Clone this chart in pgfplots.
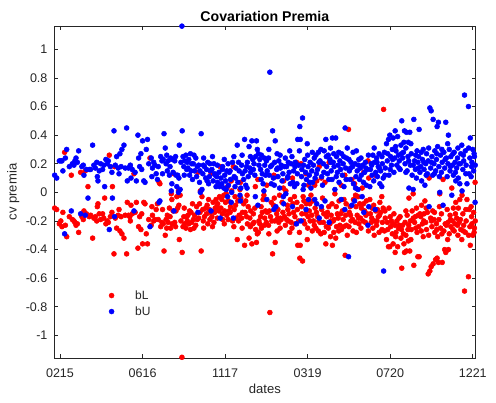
\documentclass[border=0pt]{standalone}
\usepackage{pgfplots}
\pgfplotsset{compat=1.18}
\usepackage{pgfplotstable}
\usepackage{fontspec}
\setmainfont{Liberation Sans}
\definecolor{axgray}{rgb}{0.15,0.15,0.15}
\pgfplotsset{mylegimg/.style={legend image code/.code={\draw[##1] plot coordinates {(0.3cm,0.3pt)}; \path (0cm,0cm) (0.88cm,0cm);}}}

\pgfplotstableread{
x bL bU
-6.5 -0.11 0.12
-4.0 -0.12 0.10
-0.8 -0.22 0.22
1.0 -0.20 0.22
2.4 -0.24 0.22
5.6 0.28 -0.29
6.5 -0.23 0.24
8.1 -0.31 0.30
11.3 -0.17 0.18
13.7 0.12 -0.13
15.0 -0.19 0.20
16.9 -0.20 0.19
19.4 -0.23 0.24
21.0 -0.22 0.21
22.6 -0.28 0.29
25.0 0.14 -0.15
26.5 -0.17 0.18
28.2 -0.19 0.19
30.6 0.15 -0.16
32.0 -0.15 0.16
33.9 0.04 -0.04
35.5 -0.17 0.16
37.1 -0.16 0.16
39.5 -0.32 0.33
41.0 -0.18 0.19
42.8 -0.17 0.17
44.5 -0.20 0.21
46.0 -0.08 0.08
47.5 -0.15 0.15
49.2 -0.19 0.20
51.6 -0.15 0.16
53.0 -0.18 0.19
54.1 -0.04 0.04
55.6 -0.22 0.23
57.3 -0.20 0.20
59.7 0.26 -0.26
61.0 -0.17 0.18
62.9 -0.14 0.14
63.5 0.04 -0.04
65.4 -0.43 0.43
66.0 0.18 -0.17
67.0 -0.18 0.19
68.6 -0.25 0.25
70.5 -0.16 0.17
72.6 -0.27 0.27
74.0 -0.17 0.18
75.0 -0.29 0.30
77.5 -0.32 0.33
79.0 -0.16 0.17
80.7 -0.43 0.45
81.5 -0.07 0.08
83.0 -0.16 0.17
84.5 -0.17 0.18
86.0 -0.09 0.10
87.5 -0.15 0.16
89.6 0.13 -0.13
91.0 -0.14 0.14
92.5 -0.07 0.08
94.4 -0.39 0.40
95.2 -0.24 0.24
96.5 -0.17 0.18
98.0 -0.26 0.27
100.0 -0.36 0.36
101.5 -0.07 0.08
103.0 -0.08 0.07
104.5 -0.29 0.30
106.0 -0.36 0.37
107.5 -0.19 0.20
109.0 0.24 -0.24
110.5 -0.23 0.24
112.0 -0.16 0.17
113.5 -0.20 0.21
115.0 -0.19 0.19
116.5 -0.12 0.13
118.0 -0.08 0.09
120.0 0.07 -0.07
121.0 0.06 -0.06
122.0 -0.24 0.25
123.5 -0.21 0.22
125.0 -0.22 0.23
126.0 -0.41 0.41
127.5 -0.30 0.31
128.5 -0.19 0.20
130.0 -0.16 0.15
131.0 -0.21 0.22
132.5 -0.11 0.12
134.0 -0.25 0.24
134.8 -0.01 0.01
136.0 -0.22 0.23
137.0 -0.13 0.14
138.0 0.13 -0.13
139.0 -0.21 0.22
140.5 -0.13 0.12
141.5 -0.03 0.04
142.5 -0.11 0.12
143.5 0.01 0.00
144.5 -0.33 0.33
145.5 -0.02 0.02
146.5 -0.20 0.21
147.7 -1.153 1.162
148.0 -0.42 0.43
149.0 -0.24 0.25
150.0 -0.17 0.18
151.0 -0.22 0.22
152.5 -0.25 0.26
153.5 -0.17 0.16
155.0 -0.16 0.17
156.0 -0.22 0.23
157.0 -0.13 0.12
158.0 -0.26 0.27
159.5 -0.21 0.20
160.5 -0.08 0.09
161.5 -0.19 0.20
163.0 -0.16 0.15
164.5 -0.23 0.24
165.5 -0.10 0.11
167.0 0.14 -0.14
168.0 -0.18 0.19
169.0 -0.08 0.07
170.0 0.01 0.00
171.0 -0.41 0.41
172.0 -0.03 0.02
173.0 -0.12 0.13
174.0 -0.25 0.24
175.0 -0.17 0.18
176.5 -0.11 0.10
177.5 -0.15 0.16
179.0 -0.22 0.21
180.0 -0.05 0.06
181.0 -0.12 0.11
182.0 -0.14 0.15
183.0 0.13 -0.13
184.0 -0.17 0.16
185.5 -0.07 0.08
186.5 -0.21 0.20
188.0 -0.11 0.12
189.0 -0.05 0.04
190.0 -0.10 0.11
191.0 -0.08 0.07
192.5 -0.13 0.14
194.0 0.18 -0.18
195.0 -0.11 0.10
196.0 -0.05 0.06
197.0 -0.19 0.18
198.5 -0.02 0.03
199.5 -0.13 0.12
200.5 -0.07 0.08
202.0 -0.16 0.15
203.0 0.04 -0.03
204.0 -0.06 0.05
205.0 -0.13 0.14
206.5 -0.10 0.09
208.0 0.01 0.00
209.0 -0.20 0.21
210.0 0.18 -0.18
211.0 -0.12 0.11
212.0 -0.03 0.04
213.0 -0.18 0.17
214.7 -0.33 0.33
215.5 -0.06 0.07
217.0 -0.16 0.15
218.0 0.02 -0.02
219.0 -0.04 0.03
220.0 -0.18 0.19
221.0 -0.14 0.13
222.5 -0.08 0.09
223.6 -0.37 0.37
225.0 -0.06 0.05
226.0 -0.17 0.18
227.0 -0.22 0.21
228.0 -0.10 0.11
229.0 -0.32 0.32
230.0 -0.18 0.17
231.0 -0.13 0.14
232.4 -0.36 0.36
233.5 -0.22 0.23
235.0 -0.21 0.20
236.0 -0.11 0.12
237.0 -0.26 0.25
238.0 -0.35 0.36
239.0 -0.29 0.30
239.7 0.09 -0.09
241.0 -0.20 0.19
242.0 -0.22 0.23
243.0 -0.17 0.16
244.0 -0.25 0.26
245.0 -0.14 0.13
246.0 -0.05 0.06
247.0 -0.02 0.01
248.0 -0.18 0.19
249.0 -0.13 0.12
250.0 -0.21 0.22
251.0 -0.14 0.15
252.6 -0.23 0.24
253.5 -0.13 0.12
254.2 -0.84 0.84
255.0 -0.17 0.18
256.0 -0.07 0.06
257.5 -0.43 0.43
258.5 -0.09 0.10
259.0 0.12 -0.12
260.0 -0.20 0.21
260.7 -0.35 0.36
261.5 0.11 -0.10
262.5 -0.15 0.16
263.0 -0.27 0.27
264.0 -0.12 0.11
265.0 -0.21 0.22
266.0 -0.02 0.03
267.0 -0.18 0.17
268.0 -0.19 0.19
269.0 -0.07 0.08
270.0 -0.14 0.13
271.0 0.08 -0.08
272.0 -0.17 0.18
273.6 0.01 -0.01
274.5 -0.19 0.18
275.5 -0.09 0.10
276.5 -0.20 0.21
277.5 -0.15 0.14
279.0 -0.05 0.06
280.0 -0.21 0.20
281.0 -0.25 0.25
282.0 -0.08 0.07
283.0 -0.14 0.15
284.0 -0.03 0.04
285.0 -0.22 0.21
286.5 0.21 -0.22
287.5 -0.12 0.13
288.0 -0.37 0.37
289.0 -0.20 0.19
290.5 -0.46 0.46
291.0 -0.37 0.37
292.0 0.20 -0.20
293.0 -0.15 0.16
293.8 -0.48 0.52
294.5 -0.03 0.02
295.5 -0.06 0.05
296.5 -0.22 0.23
297.5 -0.15 0.14
298.5 -0.08 0.09
299.5 -0.33 0.34
300.5 -0.17 0.18
301.0 0.05 -0.05
302.0 -0.13 0.12
303.0 -0.20 0.21
304.0 -0.02 0.03
305.0 -0.16 0.15
306.0 -0.06 0.07
307.0 -0.20 0.19
308.0 -0.23 0.24
309.0 -0.11 0.10
310.0 -0.25 0.26
311.0 0.08 -0.08
312.0 -0.17 0.16
313.0 -0.27 0.28
314.0 0.18 -0.18
315.0 -0.21 0.22
316.0 -0.29 0.30
317.0 -0.12 0.11
318.0 -0.04 0.05
319.0 -0.21 0.20
320.0 -0.28 0.29
321.0 0.07 -0.06
322.0 -0.36 0.37
323.0 -0.17 0.18
324.0 -0.14 0.13
325.0 -0.25 0.26
326.0 0.21 -0.21
327.0 -0.22 0.23
327.7 -0.31 0.31
328.5 -0.16 0.15
329.5 -0.08 0.09
330.0 -0.37 0.38
331.0 -0.20 0.21
332.0 -0.19 0.18
333.0 -0.01 0.02
334.0 -0.32 0.38
335.0 -0.24 0.25
336.0 -0.15 0.14
337.0 -0.18 0.19
338.0 -0.06 0.07
339.0 -0.23 0.22
340.0 -0.15 0.16
341.0 -0.26 0.27
342.0 -0.13 0.12
343.0 -0.19 0.20
344.0 -0.05 0.04
345.0 0.12 -0.12
345.4 -0.44 0.45
346.0 -0.16 0.17
347.0 -0.23 0.24
348.0 -0.30 0.31
349.5 0.44 -0.45
350.5 -0.14 0.15
351.5 -0.10 0.09
352.5 -0.20 0.21
353.5 0.09 -0.09
354.5 -0.19 0.18
355.5 -0.05 0.06
356.8 0.06 -0.06
357.5 -0.21 0.20
358.5 -0.10 0.11
359.0 -0.28 0.29
360.0 -0.16 0.15
361.0 -0.03 0.02
362.0 -0.22 0.23
363.0 -0.08 0.09
364.0 -0.18 0.17
365.0 -0.11 0.12
366.0 0.03 -0.03
367.0 -0.20 0.19
368.0 0.14 -0.14
369.0 -0.13 0.14
370.0 -0.21 0.21
371.0 -0.06 0.05
372.0 -0.15 0.16
373.0 0.22 -0.23
374.0 0.10 -0.10
375.3 -0.05 0.04
376.0 -0.15 0.16
377.0 -0.21 0.20
378.0 -0.11 0.12
379.0 -0.25 0.26
380.0 -0.09 0.08
381.0 -0.20 0.21
381.8 0.12 -0.12
382.5 -0.13 0.14
383.5 -0.23 0.24
384.5 -0.12 0.11
385.5 -0.17 0.18
386.5 -0.28 0.27
387.5 -0.07 0.06
388.5 -0.14 0.15
389.8 -0.03 0.04
390.5 -0.21 0.20
391.5 -0.11 0.10
392.0 0.58 -0.55
393.0 -0.27 0.28
394.0 -0.18 0.17
395.5 -0.33 0.34
396.5 -0.21 0.22
397.9 -0.38 0.37
398.5 -0.11 0.12
399.5 -0.38 0.40
400.5 -0.24 0.25
401.5 -0.20 0.19
402.5 -0.29 0.30
403.5 -0.36 0.38
404.5 -0.15 0.14
405.5 -0.23 0.24
406.0 -0.42 0.43
407.0 -0.28 0.29
408.0 -0.20 0.19
409.0 -0.38 0.39
410.0 -0.25 0.26
411.0 -0.23 0.22
412.0 -0.17 0.16
413.0 -0.32 0.33
414.0 -0.53 0.50
415.0 -0.23 0.24
416.0 -0.29 0.28
417.3 -0.42 0.43
418.0 -0.21 0.20
419.0 -0.30 0.31
419.7 -0.41 0.42
420.5 -0.16 0.15
421.5 -0.26 0.25
422.0 -0.34 0.35
422.7 -0.04 0.03
423.7 -0.41 0.42
424.5 -0.20 0.19
425.5 -0.26 0.27
426.5 -0.13 0.12
427.8 -0.01 0.02
428.6 -0.51 0.51
429.5 -0.21 0.22
430.5 -0.17 0.16
431.8 -0.11 0.10
432.5 -0.28 0.29
433.5 -0.45 0.21
434.5 -0.24 0.25
435.0 -0.45 0.44
436.0 -0.15 0.14
437.0 -0.17 0.18
438.0 -0.09 0.08
439.0 -0.22 0.23
440.0 -0.31 0.30
441.0 -0.15 0.16
442.0 -0.06 0.05
443.0 -0.21 0.20
444.0 -0.26 0.27
445.0 -0.14 0.13
446.0 -0.57 0.22
447.1 0.10 -0.10
448.0 -0.55 0.59
449.0 -0.18 0.17
449.6 -0.52 0.57
450.5 -0.24 0.25
451.5 -0.13 0.12
452.0 -0.50 0.51
453.0 -0.19 0.20
454.0 -0.28 0.29
455.0 -0.47 0.15
456.0 -0.22 0.23
456.8 -0.46 0.46
457.5 -0.31 0.32
458.4 -0.49 0.49
459.0 -0.19 0.18
460.0 -0.01 0.00
461.0 -0.25 0.26
462.0 -0.15 0.14
463.0 -0.49 0.21
464.0 0.09 -0.09
465.0 -0.27 0.28
466.0 -0.40 0.17
467.3 -0.42 0.49
468.0 -0.23 0.24
469.0 -0.12 0.11
470.0 -0.21 0.20
470.5 -0.40 0.40
471.5 -0.29 0.30
472.5 -0.16 0.15
473.5 -0.24 0.25
474.6 0.03 -0.02
475.5 -0.20 0.19
476.5 -0.11 0.12
477.5 -0.27 0.28
478.5 -0.22 0.21
479.4 -0.07 0.08
480.5 -0.18 0.17
481.5 -0.23 0.24
482.5 -0.11 0.10
483.5 -0.21 0.20
484.3 -0.05 0.06
485.5 -0.26 0.27
486.7 -0.33 0.33
487.0 -0.02 0.01
488.0 -0.15 0.16
489.0 -0.23 0.22
490.0 -0.69 0.68
491.0 -0.28 0.29
492.0 -0.20 0.19
493.0 -0.05 0.06
494.8 -0.59 0.60
495.6 -0.12 0.13
496.5 -0.24 0.24
497.0 -0.37 0.38
498.0 -0.10 0.11
499.0 -0.22 0.21
500.0 -0.30 0.30
501.0 -0.14 0.15
502.0 -0.25 0.25
502.8 0.07 -0.07
503.0 -0.20 0.19
3.5 -0.14 0.15
18.0 -0.21 0.22
29.0 -0.13 0.12
45.2 -0.10 0.11
58.5 -0.21 0.22
71.5 -0.12 0.13
85.2 -0.20 0.19
99.0 -0.15 0.16
111.3 -0.10 0.11
119.0 -0.19 0.18
124.2 -0.12 0.13
129.3 -0.25 0.26
133.3 -0.17 0.18
135.5 -0.05 0.06
140.0 -0.24 0.25
144.0 -0.09 0.10
150.5 -0.11 0.12
154.2 -0.20 0.21
158.7 -0.14 0.15
162.3 -0.25 0.26
166.2 -0.19 0.18
169.6 -0.14 0.15
173.6 -0.20 0.19
178.2 -0.09 0.08
181.6 -0.19 0.20
184.7 -0.24 0.25
187.3 -0.14 0.13
190.6 -0.18 0.19
193.3 -0.03 0.04
196.6 -0.15 0.16
199.0 -0.22 0.23
201.3 -0.01 0.02
203.6 -0.19 0.20
206.0 -0.14 0.15
207.4 0.08 -0.07
210.6 -0.24 0.25
212.6 -0.09 0.10
216.3 -0.20 0.21
218.6 0.07 -0.06
220.6 -0.25 0.26
224.2 -0.14 0.15
226.6 -0.02 0.03
230.6 -0.24 0.25
234.2 -0.15 0.16
236.6 0.04 -0.03
240.3 -0.28 0.27
243.6 -0.10 0.09
247.6 -0.23 0.24
250.5 0.05 -0.05
253.0 -0.29 0.30
256.6 -0.20 0.19
259.6 -0.04 0.05
263.6 -0.18 0.17
266.6 -0.25 0.26
270.6 0.03 -0.03
273.0 -0.23 0.24
276.0 -0.12 0.11
278.3 -0.28 0.29
281.6 0.10 -0.10
284.6 -0.17 0.18
287.0 -0.07 0.06
290.0 -0.28 0.29
292.6 -0.10 0.11
295.0 -0.20 0.19
298.0 0.13 -0.12
300.0 -0.25 0.26
302.6 -0.08 0.07
305.6 -0.27 0.28
308.6 0.05 -0.05
310.6 -0.14 0.13
313.6 -0.20 0.21
316.6 0.10 -0.10
319.6 -0.15 0.14
322.6 -0.24 0.25
325.6 -0.10 0.09
328.0 -0.20 0.21
331.6 -0.28 0.27
334.6 -0.10 0.11
337.6 -0.27 0.28
340.6 0.05 -0.05
343.6 -0.24 0.25
346.6 -0.08 0.09
350.0 -0.24 0.23
352.0 -0.16 0.17
355.0 -0.27 0.28
358.0 -0.02 0.03
361.6 -0.18 0.19
364.6 -0.25 0.24
367.6 -0.08 0.07
370.6 -0.16 0.17
373.6 -0.27 0.26
377.6 -0.18 0.19
380.6 -0.30 0.31
384.0 -0.20 0.21
387.0 -0.16 0.17
390.0 -0.26 0.25
393.6 -0.13 0.12
397.0 -0.26 0.27
400.0 -0.17 0.16
403.0 -0.22 0.23
406.6 -0.31 0.32
410.6 -0.18 0.17
413.6 -0.26 0.27
416.6 -0.36 0.35
419.0 -0.13 0.14
422.4 -0.23 0.22
425.0 -0.33 0.34
428.0 -0.18 0.19
431.0 -0.25 0.26
434.0 -0.16 0.17
437.6 -0.27 0.28
440.6 -0.20 0.21
443.6 -0.11 0.12
446.6 -0.30 0.31
450.0 -0.20 0.21
453.6 -0.14 0.13
456.4 -0.26 0.27
459.6 -0.10 0.11
462.6 -0.29 0.30
466.6 -0.22 0.23
469.6 -0.33 0.34
473.0 -0.19 0.18
476.0 -0.26 0.27
479.0 -0.15 0.14
482.0 -0.30 0.31
485.0 -0.19 0.20
488.6 -0.27 0.26
491.6 -0.12 0.13
495.0 -0.30 0.31
498.6 -0.17 0.18
501.6 -0.28 0.27
}\data

\begin{document}
\begin{tikzpicture}
\path[use as bounding box] (-40.5pt,-33.75pt) rectangle (331.5pt,268.5pt);
\begin{axis}[
  at={(0pt,0pt)}, anchor=south west,
  scale only axis, width=316.3pt, height=249pt,
  xmin=-7.27, xmax=503.6, ymin=-1.158, ymax=1.163,
  xtick={0,100,200,300,400,500},
  xticklabels={0215,0616,1117,0319,0720,1221},
  ytick={-1,-0.8,-0.6,-0.4,-0.2,0,0.2,0.4,0.6,0.8,1},
  tick align=inside, tick pos=both,
  xticklabel pos=lower, yticklabel pos=left,
  major tick length=3pt,
  axis line style={axgray, line width=0.6pt},
  tick style={axgray, line width=0.6pt},
  /pgf/number format/assume math mode=true,
  ticklabel style={font=\fontsize{9.4}{11}\selectfont, text=axgray},
  yticklabel style={xshift=-1.4pt},
  xticklabel style={yshift=-4.3pt},
  title={Covariation Premia},
  title style={at={(axis description cs:0.5,0.988)}, anchor=base, font=\fontsize{10.6}{12}\selectfont\bfseries, text=black},
  xlabel={dates}, ylabel={cv premia},
  xlabel style={at={(axis description cs:0.5,-0.0633)}, anchor=north, font=\fontsize{9.8}{12}\selectfont, text=axgray},
  ylabel style={at={(axis description cs:-0.0711,0.5)}, anchor=south, font=\fontsize{9.8}{12}\selectfont, text=axgray},
  clip=false,
  legend style={at={(axis description cs:0.109,0.209)}, anchor=north west, draw=none, fill=none,
    inner sep=0pt, outer sep=0pt, row sep=1pt,
    nodes={inner sep=1pt, text height=7pt, text depth=2pt},
    font=\fontsize{9}{11}\selectfont, text=axgray},
  legend cell align=left,
]
\addplot[only marks, mark=*, mark size=1.85pt, color=red, mark options={fill=red, draw=red}, mylegimg]
  table[x=x, y=bL] {\data};
\addlegendentry{bL}
\addplot[only marks, mark=*, mark size=1.85pt, color=blue, mark options={fill=blue, draw=blue}, mylegimg]
  table[x=x, y=bU] {\data};
\addlegendentry{bU}
\end{axis}
\end{tikzpicture}
\end{document}
